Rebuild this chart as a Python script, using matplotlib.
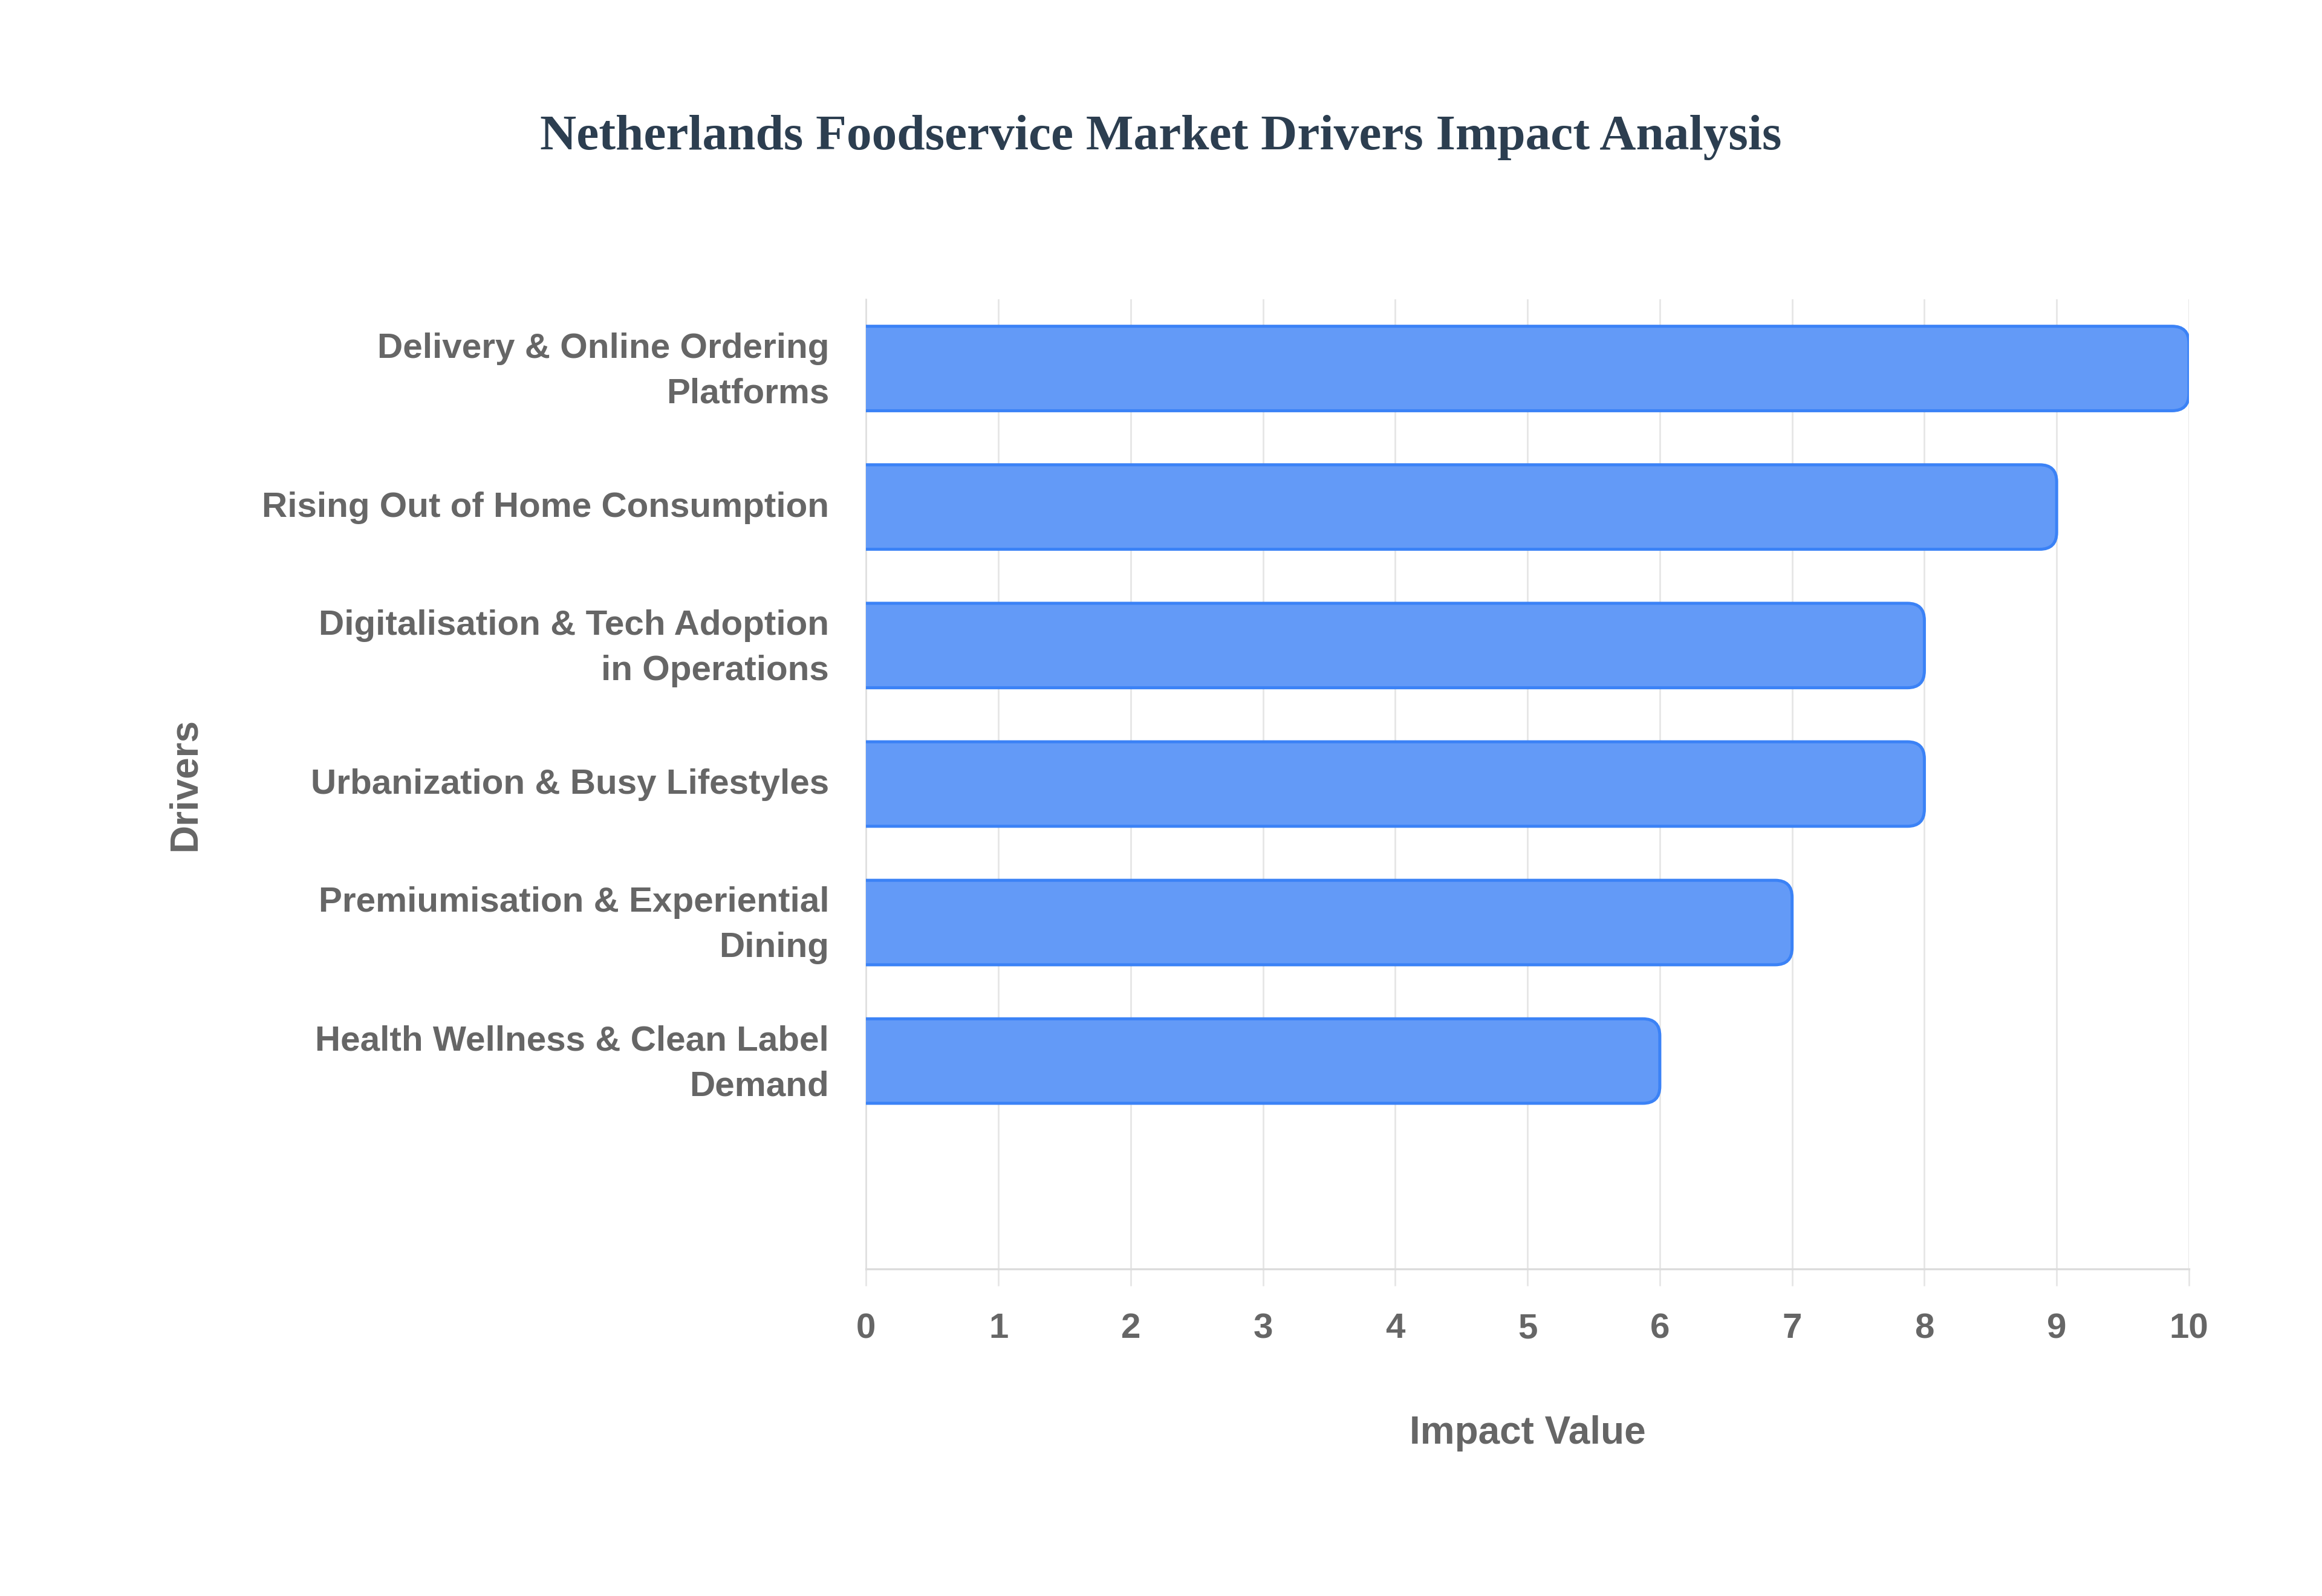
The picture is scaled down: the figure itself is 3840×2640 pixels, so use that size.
import matplotlib
matplotlib.use("Agg")
import matplotlib.pyplot as plt
import matplotlib.transforms as mtransforms
from matplotlib.patches import FancyBboxPatch

# data, top to bottom
drivers = [
    "Delivery & Online Ordering\nPlatforms",
    "Rising Out of Home Consumption",
    "Digitalisation & Tech Adoption\nin Operations",
    "Urbanization & Busy Lifestyles",
    "Premiumisation & Experiential\nDining",
    "Health Wellness & Clean Label\nDemand",
]
impact = [10, 9, 8, 8, 7, 6]
x_ticks = [0, 1, 2, 3, 4, 5, 6, 7, 8, 9, 10]

title = "Netherlands Foodservice Market Drivers Impact Analysis"
xlab = "Impact Value"
ylab = "Drivers"

W, H, DPI = 19.2, 13.2, 200
fig = plt.figure(figsize=(W, H), dpi=DPI)
L, R, B, T = 0.373, 0.9427, 0.205, 0.8125
ax = fig.add_axes([L, B, R - L, T - B])

nslots = len(drivers) + 1  # chart leaves one empty slot under the last bar
ax.set_xlim(0, 10)
ax.set_ylim(nslots - 0.5, -0.5)

# rounding of the bar end, same in x and y pixels
ax_w_px = (R - L) * W * DPI
ax_h_px = (T - B) * H * DPI
xu = 10 / ax_w_px
yu = nslots / ax_h_px
r_px = 28
bh = 0.61
for i, v in enumerate(impact):
    x0 = -0.5
    p = FancyBboxPatch((x0, i - bh / 2), v - x0, bh,
                       boxstyle="round,pad=0,rounding_size=%f" % (r_px * xu),
                       mutation_aspect=yu / xu,
                       facecolor="#639af7", edgecolor="#3b82f6", linewidth=1.8,
                       zorder=3)
    ax.add_patch(p)

ax.set_xticks(x_ticks)
ax.set_yticks(range(len(drivers)))
ax.set_yticklabels(drivers, linespacing=1.5, multialignment="right")
ax.grid(axis="x", color="#e6e6e6", linewidth=1.0, zorder=0)
ax.set_axisbelow(True)

for s in ["top", "right"]:
    ax.spines[s].set_visible(False)
ax.spines["left"].set_color("#e0e0e0")
ax.spines["bottom"].set_color("#dcdcdc")
ax.spines["left"].set_linewidth(1.0)
ax.spines["bottom"].set_linewidth(1.2)

ax.tick_params(axis="x", length=10, width=1.0, color="#e6e6e6", pad=16,
               labelsize=21, labelcolor="#666666")
ax.tick_params(axis="y", length=0, pad=22, labelsize=21, labelcolor="#666666")
for lbl in ax.get_xticklabels() + ax.get_yticklabels():
    lbl.set_fontweight("bold")
    lbl.set_fontfamily("Liberation Sans")

# nudge the driver labels up a little so they sit centred on the bars
for lbl in ax.get_yticklabels():
    dy = 4.3 if "\n" in lbl.get_text() else 1.8
    off = mtransforms.ScaledTranslation(0, dy / 72, fig.dpi_scale_trans)
    lbl.set_transform(lbl.get_transform() + off)

fig.text(0.5, 0.9137, title, ha="center", va="center", fontsize=30,
         fontweight="bold", family="Liberation Serif", color="#2c3e50")
fig.text((L + R) / 2, 0.102, xlab, ha="center", va="center", fontsize=23,
         fontweight="bold", family="Liberation Sans", color="#666666")
fig.text(0.0797, (B + T) / 2, ylab, ha="center", va="center", rotation=90,
         fontsize=23, fontweight="bold", family="Liberation Sans", color="#666666")

fig.savefig("out.png", dpi=DPI, facecolor="white")
